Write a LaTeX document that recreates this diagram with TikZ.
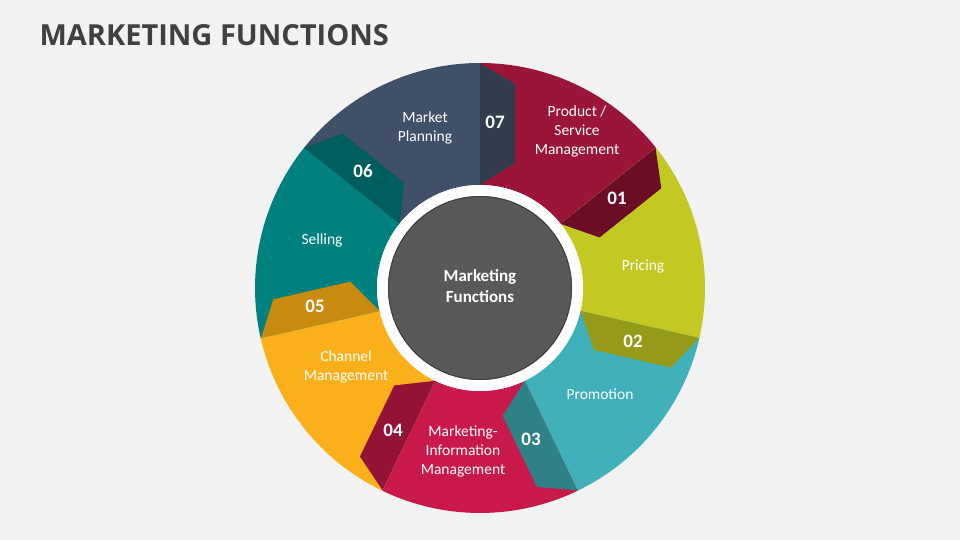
\documentclass[tikz,border=0pt]{standalone}
\usepackage{fontspec}
\setmainfont{Carlito}
\newfontfamily\titlefont{Open Sans}
\definecolor{bg}{HTML}{F2F2F2}
\definecolor{cA}{HTML}{9B1538}\definecolor{dA}{HTML}{6A0D25}
\definecolor{cB}{HTML}{C2C923}\definecolor{dB}{HTML}{959A19}
\definecolor{cC}{HTML}{40B0BA}\definecolor{dC}{HTML}{2F8188}
\definecolor{cD}{HTML}{C9184A}\definecolor{dD}{HTML}{941236}
\definecolor{cE}{HTML}{F9B01A}\definecolor{dE}{HTML}{C98B0E}
\definecolor{cF}{HTML}{008180}\definecolor{dF}{HTML}{005E5E}
\definecolor{cG}{HTML}{3F5068}\definecolor{dG}{HTML}{313D4F}
\begin{document}
\begin{tikzpicture}[x=1pt,y=1pt,
  lbl/.style={text=white,font=\fontsize{15.5}{19}\selectfont,align=center},
  num/.style={text=white,font=\fontsize{19}{21}\selectfont\bfseries}]
\fill[bg] (0,0) rectangle (960,540);
\useasboundingbox (0,0) rectangle (960,540);
\node[anchor=west,text=black!75,font=\titlefont\fontsize{29}{32}\selectfont\bfseries] (title) at (36,505) {MARKETING FUNCTIONS};
\begin{scope}[shift={(480,252)}]
\foreach \k/\c in {1/A,2/B,3/C,4/D,5/E,6/F,7/G}{
  \pgfmathsetmacro\a{90-(\k-1)*360/7}
  \pgfmathsetmacro\e{\a-360/7}
  \fill[c\c] (\a:225) arc[start angle=\a,end angle=\e,radius=225] -- (\e:103) arc[start angle=\e,end angle=\a,radius=103] -- cycle;
}
\foreach \k/\c in {1/A,2/B,3/C,4/D,5/E,6/F,7/G}{
  \pgfmathsetmacro\e{90-\k*360/7}
  \fill[d\c,rotate=\e] (224.5,0) -- (204,-35) -- (125,-35) -- (103,0) -- cycle;
}
\fill[white!90!bg] (0,0) circle (103);
\fill[black!65] (0,0) circle (92);
\draw[black!75,line width=1pt] (0,0) circle (91.5);
\node[lbl,font=\fontsize{17}{21}\selectfont\bfseries] (ctr) at (0,2) {Marketing\\Functions};
\end{scope}
\node[lbl] (l1) at (577,409) {Product /\\Service\\Management};
\node[lbl] (l2) at (643,273) {Pricing};
\node[lbl] (l3) at (600,146) {Promotion};
\node[lbl] (l4) at (463,89) {Marketing-\\Information\\Management};
\node[lbl] (l5) at (346,173) {Channel\\Management};
\node[lbl] (l6) at (322,300) {Selling};
\node[lbl] (l7) at (425,412) {Market\\Planning};
\node[num] (n7) at (495,418) {07};
\node[num] (n1) at (617,342) {01};
\node[num] (n2) at (633,199) {02};
\node[num] (n3) at (531,101) {03};
\node[num] (n4) at (393,110) {04};
\node[num] (n5) at (315,234) {05};
\node[num] (n6) at (363,369) {06};
\end{tikzpicture}
\end{document}
